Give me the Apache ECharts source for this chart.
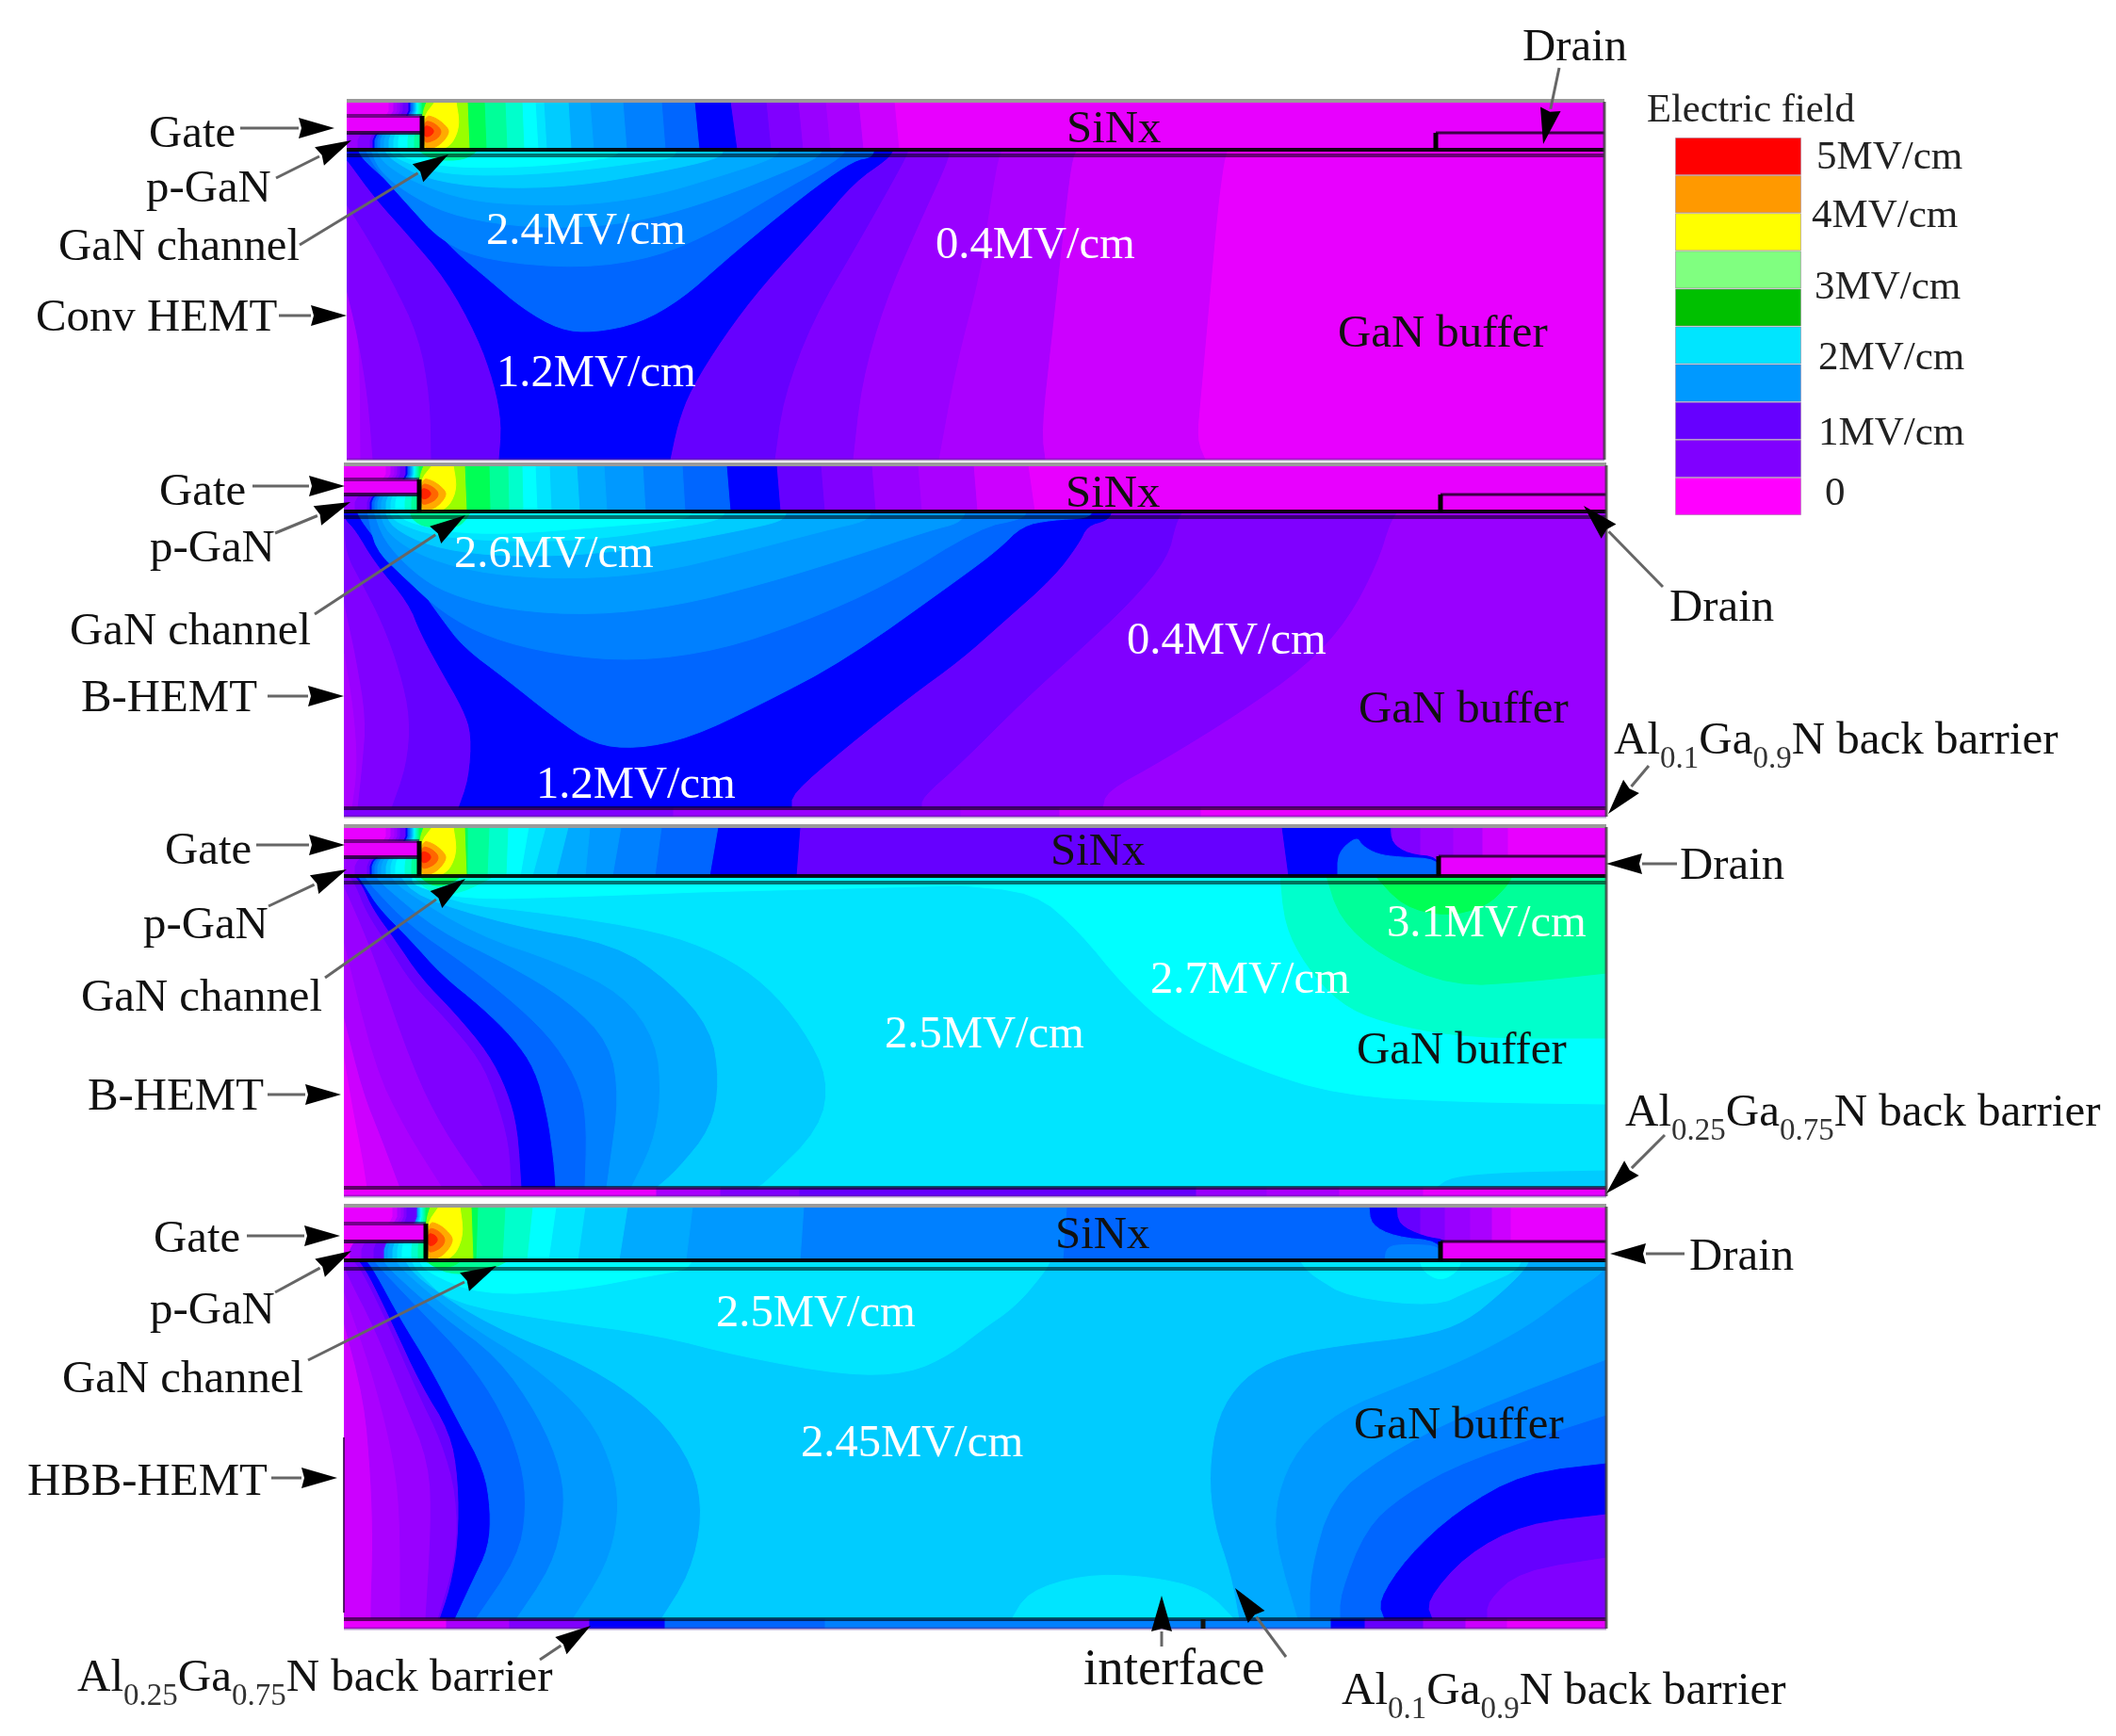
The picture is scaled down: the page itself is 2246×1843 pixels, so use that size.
<!DOCTYPE html>
<html>
<head>
<meta charset="utf-8">
<title>Electric field</title>
<script src="https://cdn.jsdelivr.net/npm/echarts@6/dist/echarts.min.js"></script>
<style>
    html, body { margin: 0; padding: 0; background: #fff; }
    #chart { width: 2246px; height: 1843px; }
</style>
</head>
<body>
<div id="chart"></div>
<script>
// Field bands, low to high. Contours below refer to an index in these two lists.
const bandValues = [0, 0.2, 0.3, 0.4, 0.6, 0.8, 1.2, 1.4, 1.6, 1.8, 2.0, 2.2, 2.45, 2.7, 2.9, 3.1, 3.3, 3.6, 4, 4.3, 4.6, 5];
const bandColors = ['#e800ff', '#cc00ff', '#aa00ff', '#9900ff', '#8000ff', '#6600ff', '#0000ff', '#0066ff', '#0080ff', '#0099ff', '#00aaff',
    '#00ccff', '#00e5ff', '#00ffff', '#00ffcc', '#00ff99', '#00ff55', '#99ff00', '#ffff00', '#ffaa00', '#ff6600', '#ff2200'];

// Colour bar
const legendColors = ['#ff0000', '#ff9900', '#ffff00', '#80ff80', '#00c000', '#00e5ff', '#0099ff', '#6600ff', '#8000ff', '#ff00ff'];
const legendValues = [1, 1, 1, 1, 1, 1, 1, 1, 1, 1];

// Left edge of each band around the gate: [above gate, below gate]
const gateEdges = {1: [45, 0], 2: [50, 0], 3: [54, 0], 4: [57, 12], 5: [60, 25], 6: [66, 28], 7: [68, 30], 8: [70, 33], 9: [71, 36], 10: [72, 40],
    11: [73, 45], 12: [74, 50], 13: [75, 55], 14: [76, 65], 15: [78, 72], 16: [80, 78]};

// Hot spot at the gate corner
const hotBands = [
    [17, [[85, 0], [128, 0], [130, 51], [80, 51], [80, 14]]],
    [18, [[94, 0], [116, 0], [120, 25], [112, 45], [100, 51], [80, 51], [80, 18]]],
    [19, [[82, 14], [95, 17], [108, 28], [108, 35], [100, 45], [90, 50], [82, 50]]],
    [20, [[82, 20], [92, 22], [101, 30], [98, 38], [88, 43], [82, 43]]],
    [21, [[82, 25], [90, 27], [93, 32], [88, 37], [82, 37]]]
];

// SiNx layer, [band, right edge at top, right edge at bottom]
const convSinx = [[1, 581, 586], [2, 543, 548], [3, 508, 513], [4, 479, 484], [5, 445, 450], [6, 407, 414], [7, 369, 374], [8, 334, 338], [9, 293, 297],
    [10, 258, 262], [11, 235, 238], [12, 209, 212], [13, 200, 203], [14, 186, 188], [15, 168, 170], [16, 146, 148]];
const bhemt1Sinx = [[1, 726, 733], [2, 668, 672], [3, 609, 613], [4, 560, 564], [5, 506, 510], [6, 459, 463], [7, 406, 410], [8, 359, 362], [9, 317, 320],
    [10, 276, 279], [11, 247, 250], [12, 218, 220], [13, 203, 205], [14, 189, 190], [15, 174, 175], [16, 154, 155]];
const bhemt2Sinx = [[1, 1235, 1235], [2, 1208, 1208], [3, 1177, 1177], [4, 1142, 1142], [5, 1112, 1112], [6, 484, 480], [7, 397, 388], [8, 337, 330], [9, 294, 285],
    [10, 261, 256], [11, 238, 225], [12, 214, 200], [13, 196, 187], [14, 174, 172], [15, 154, 152], [16, 131, 131]];
const hbbSinx = [[1, 1238, 1238], [2, 1218, 1218], [3, 1195, 1195], [4, 1168, 1168], [5, 1142, 1142], [9, 488, 484], [10, 370, 363], [11, 301, 292], [12, 256, 248],
    [13, 225, 217], [14, 200, 194], [15, 171, 168], [16, 142, 140]];

// SiNx patches that do not follow the left to right order
const bhemt2SinxPatches = [
    [6, [[996, 0], [1110, 0], [1112, 17], [1130, 29], [1162, 32], [1162, 52], [1003, 52]]],
    [7, [[1055, 52], [1055, 27], [1075, 10], [1081, 20], [1097, 29], [1119, 32], [1162, 34], [1162, 52]]]
];
const hbbSinxBelow = [
    [6, [[480, 0], [1117, 0], [1119, 19], [1146, 32], [1173, 36], [1173, 57], [480, 57]]],
    [7, [[480, 0], [1088, 0], [1090, 19], [1115, 32], [1164, 37], [1164, 57], [480, 57]]],
    [8, [[480, 0], [767, 0], [763, 57], [480, 57]]],
    [8, [[1105, 57], [1107, 42], [1130, 40], [1164, 42], [1164, 57]]]
];

// GaN buffer contours
const convBuffer = [
    [1, [[0, 51], [935, 51], [931, 62], [924, 115], [915, 215], [906, 315], [902, 359], [911, 380], [0, 380]]],
    [2, [[0, 51], [775, 51], [769, 62], [759, 149], [748, 249], [737, 349], [741, 380], [0, 380]]],
    [3, [[0, 51], [695, 51], [690, 65], [679, 132], [672, 182], [646, 282], [628, 380], [15, 380], [14, 250], [0, 150]]],
    [4, [[0, 51], [640, 51], [637, 65], [606, 132], [570, 215], [546, 299], [537, 380], [28, 380], [23, 315], [12, 249], [0, 199]]],
    [5, [[0, 51], [596, 51], [592, 62], [543, 149], [494, 232], [463, 315], [454, 380], [90, 380], [89, 315], [77, 249], [48, 189], [21, 142], [0, 109]]],
    [6, [[0, 51], [580, 51], [575, 60], [539, 85], [499, 132], [441, 195], [400, 249], [365, 305], [351, 342], [343, 380], [162, 380], [165, 342], [157, 299], [139, 249], [106, 189], [66, 142], [30, 102], [3, 65], [0, 62]]],
    [7, [[12, 51], [560, 51], [557, 59], [539, 62], [499, 89], [445, 132], [401, 169], [356, 209], [311, 235], [262, 245], [226, 242], [186, 219], [151, 189], [115, 159], [79, 119], [52, 92], [26, 69], [17, 60]]],
    [8, [[20, 51], [530, 51], [521, 62], [454, 99], [396, 135], [329, 165], [249, 177], [151, 169], [101, 149], [61, 105], [30, 70]]],
    [9, [[26, 51], [505, 51], [499, 60], [463, 75], [396, 102], [320, 125], [249, 134], [173, 132], [106, 119], [61, 95], [34, 72]]],
    [10, [[32, 51], [460, 51], [454, 60], [396, 79], [329, 99], [262, 109], [195, 110], [128, 105], [70, 85], [39, 65]]],
    [11, [[40, 51], [400, 51], [396, 60], [329, 75], [240, 90], [151, 92], [84, 82], [48, 62]]],
    [12, [[45, 51], [350, 51], [347, 59], [329, 62], [240, 74], [151, 79], [92, 75], [52, 60]]],
    [13, [[55, 51], [290, 51], [284, 59], [222, 67], [159, 70], [106, 69], [61, 60]]],
    [15, [[75, 51], [140, 51], [125, 62], [92, 62]]]
];

const bhemt1Buffer = [
    [2, [[0, 200], [10, 260], [14, 320], [8, 364], [0, 364]]],
    [4, [[0, 49], [1118, 49], [1110, 61], [1097, 103], [1066, 163], [1021, 213], [950, 263], [869, 313], [809, 346], [805, 364], [15, 364], [20, 319], [24, 269], [13, 203], [2, 153], [0, 140]]],
    [5, [[0, 49], [890, 49], [883, 61], [874, 99], [834, 146], [784, 193], [722, 249], [655, 316], [613, 353], [613, 364], [51, 364], [67, 319], [71, 269], [60, 219], [42, 169], [20, 126], [2, 93]]],
    [6, [[0, 49], [815, 49], [811, 58], [789, 64], [780, 83], [753, 119], [700, 166], [655, 206], [600, 246], [533, 299], [475, 349], [475, 364], [122, 364], [133, 333], [136, 286], [127, 259], [104, 219], [82, 179], [69, 146], [33, 103], [13, 69], [2, 58]]],
    [7, [[14, 49], [795, 49], [789, 56], [751, 58], [720, 64], [695, 89], [655, 119], [533, 206], [444, 253], [368, 289], [310, 301], [265, 296], [225, 269], [171, 226], [127, 193], [104, 163], [78, 126], [42, 89], [20, 61]]],
    [8, [[25, 49], [725, 49], [720, 57], [675, 66], [578, 126], [488, 166], [399, 196], [310, 208], [225, 201], [154, 183], [104, 156], [64, 119], [33, 89]]],
    [9, [[32, 49], [660, 49], [654, 61], [622, 69], [533, 99], [444, 126], [354, 149], [265, 159], [176, 154], [109, 136], [73, 113], [42, 79]]],
    [10, [[38, 49], [560, 49], [555, 59], [511, 69], [421, 93], [332, 114], [243, 121], [154, 116], [87, 99], [46, 73]]],
    [11, [[44, 49], [470, 49], [466, 59], [421, 69], [332, 86], [243, 96], [154, 96], [91, 86], [51, 66]]],
    [12, [[48, 49], [405, 49], [399, 58], [354, 66], [265, 79], [176, 81], [100, 76], [55, 61]]],
    [13, [[56, 49], [370, 49], [363, 58], [265, 66], [176, 73], [109, 71], [64, 59]]],
    [15, [[70, 49], [135, 49], [127, 61], [118, 66], [87, 66], [73, 58]]]
];

const bhemt2Buffer = [
    [1, [[0, 240], [10, 300], [20, 350], [25, 383], [1340, 383], [1340, 52], [0, 52]]],
    [2, [[0, 200], [20, 280], [40, 330], [60, 383], [1340, 383], [1340, 52], [0, 52]]],
    [3, [[0, 120], [33, 254], [65, 320], [105, 383], [1340, 383], [1340, 52], [0, 52]]],
    [4, [[0, 52], [0, 62], [30, 130], [73, 254], [105, 320], [149, 383], [1340, 383], [1340, 52]]],
    [5, [[6, 52], [13, 62], [24, 90], [46, 124], [73, 167], [109, 204], [145, 247], [162, 287], [176, 337], [178, 383], [1340, 383], [1340, 52]]],
    [6, [[12, 52], [20, 62], [31, 87], [55, 120], [82, 160], [118, 197], [154, 240], [174, 280], [185, 320], [189, 383], [1340, 383], [1340, 52]]],
    [7, [[15, 52], [22, 62], [38, 87], [71, 120], [104, 157], [145, 190], [180, 224], [203, 257], [216, 304], [223, 354], [225, 383], [1340, 383], [1340, 52]]],
    [8, [[22, 52], [29, 62], [69, 104], [131, 147], [185, 190], [225, 230], [252, 277], [258, 320], [256, 383], [1340, 383], [1340, 52]]],
    [9, [[34, 52], [42, 62], [100, 110], [171, 144], [238, 184], [283, 230], [292, 287], [283, 354], [279, 383], [1340, 383], [1340, 52]]],
    [10, [[50, 52], [60, 65], [140, 114], [229, 144], [296, 177], [332, 227], [337, 287], [328, 337], [305, 383], [1340, 383], [1340, 52]]],
    [11, [[60, 52], [78, 74], [176, 104], [288, 124], [346, 164], [390, 214], [399, 270], [390, 320], [354, 364], [332, 383], [1340, 383], [1340, 52]]],
    [12, [[80, 52], [109, 80], [221, 92], [332, 110], [399, 134], [448, 167], [488, 214], [515, 267], [506, 320], [448, 377], [439, 383], [1340, 383], [1340, 52]]],
    [11, [[1160, 383], [1175, 372], [1235, 367], [1340, 365], [1340, 383]]],
    [13, [[73, 52], [73, 62], [127, 77], [243, 74], [377, 69], [655, 62], [733, 69], [780, 110], [829, 170], [878, 214], [959, 254], [1057, 285], [1191, 292], [1340, 294], [1340, 52]]],
    [14, [[994, 52], [999, 104], [1021, 147], [1057, 187], [1101, 207], [1191, 224], [1340, 224], [1340, 52]]],
    [15, [[1043, 52], [1057, 97], [1101, 137], [1177, 169], [1258, 164], [1340, 155], [1340, 52]]],
    [16, [[1095, 52], [1124, 84], [1170, 95], [1213, 84], [1235, 62], [1240, 52]]],
    [14, [[73, 52], [160, 52], [125, 70], [95, 72]]],
    [16, [[80, 52], [125, 52], [110, 62], [92, 62]]]
];

const hbbBuffer = [
    [2, [[0, 122], [22, 206], [29, 289], [31, 356], [29, 422], [29, 438], [1340, 438], [1340, 57], [0, 57]]],
    [3, [[0, 89], [29, 172], [51, 256], [60, 322], [60, 438], [1340, 438], [1340, 57], [0, 57]]],
    [4, [[2, 69], [33, 129], [64, 206], [91, 272], [93, 339], [87, 438], [1340, 438], [1340, 57], [0, 57]]],
    [5, [[20, 69], [46, 122], [78, 196], [104, 249], [120, 306], [120, 372], [100, 438], [1213, 438], [1213, 419], [1249, 386], [1340, 372], [1340, 57], [10, 57]]],
    [6, [[26, 71], [51, 122], [82, 189], [113, 239], [122, 289], [122, 356], [113, 406], [102, 438], [1155, 438], [1148, 419], [1191, 369], [1253, 336], [1340, 326], [1340, 57], [16, 57]]],
    [7, [[33, 69], [60, 119], [91, 169], [122, 229], [149, 279], [156, 322], [154, 362], [136, 399], [118, 438], [1104, 438], [1097, 419], [1128, 372], [1182, 322], [1253, 282], [1340, 272], [1340, 57], [24, 57]]],
    [8, [[42, 69], [87, 116], [131, 162], [167, 216], [189, 272], [194, 322], [185, 372], [140, 438], [1057, 438], [1057, 412], [1084, 342], [1124, 306], [1191, 269], [1340, 221], [1340, 57], [32, 57]]],
    [9, [[51, 69], [104, 116], [163, 159], [207, 222], [232, 282], [234, 329], [221, 382], [183, 438], [1025, 438], [1025, 389], [1048, 309], [1101, 266], [1191, 219], [1340, 162], [1340, 57], [42, 57]]],
    [10, [[64, 69], [127, 122], [198, 166], [261, 222], [288, 282], [292, 329], [279, 382], [243, 438], [1012, 438], [988, 356], [990, 306], [1012, 256], [1057, 216], [1124, 189], [1191, 162], [1258, 126], [1302, 92], [1338, 69], [1340, 57], [55, 57]]],
    [11, [[78, 76], [154, 126], [261, 169], [332, 219], [372, 276], [381, 329], [368, 389], [337, 438], [950, 438], [941, 389], [923, 336], [918, 282], [927, 222], [954, 182], [994, 159], [1057, 147], [1146, 137], [1191, 122], [1231, 89], [1253, 67], [1258, 57], [65, 57]]],
    [12, [[78, 69], [113, 102], [221, 121], [332, 136], [421, 159], [533, 179], [600, 177], [645, 156], [675, 132], [713, 106], [744, 69], [750, 57], [72, 57]]],
    [12, [[1021, 66], [1030, 74], [1066, 96], [1159, 106], [1195, 89], [1244, 69], [1250, 57], [1015, 57]]],
    [12, [[709, 438], [726, 409], [784, 391], [851, 392], [914, 406], [945, 438]]],
    [13, [[87, 69], [145, 94], [243, 89], [332, 72], [363, 67], [370, 57], [80, 57]]],
    [13, [[1146, 69], [1164, 79], [1182, 69], [1186, 57], [1142, 57]]],
    [15, [[85, 57], [175, 57], [150, 70], [110, 72]]],
    [16, [[88, 57], [125, 57], [115, 64], [95, 64]]]
];

// Back barrier strips, [from, to, band]
const bhemt1Barrier = [[0, 350, 4], [350, 655, 3], [655, 760, 2], [760, 910, 1], [910, 1340, 0]];
const bhemt2Barrier = [[0, 332, 0], [332, 400, 2], [400, 484, 4], [484, 905, 5], [905, 980, 3], [980, 1057, 2], [1057, 1146, 1], [1146, 1340, 0]];
const hbbBarrier = [[0, 109, 0], [109, 176, 2], [176, 261, 4], [261, 341, 6], [341, 511, 7], [511, 1048, 8], [1048, 1084, 6], [1084, 1146, 5], [1146, 1191, 3], [1191, 1235, 1], [1235, 1340, 0]];

// Labels: text, left, middle
const darkLabels = [
    ['Gate', 158, 140], ['p-GaN', 155, 198], ['GaN channel', 62, 260], ['Conv HEMT', 38, 335], ['SiNx', 1132, 135], ['GaN buffer', 1420, 352], ['Drain', 1616, 48],
    ['Gate', 169, 520], ['p-GaN', 159, 580], ['GaN channel', 74, 668], ['B-HEMT', 86, 739], ['SiNx', 1131, 522], ['GaN buffer', 1442, 751], ['Drain', 1772, 643],
    ['Gate', 175, 901], ['p-GaN', 152, 980], ['GaN channel', 86, 1057], ['B-HEMT', 93, 1162], ['SiNx', 1115, 902], ['GaN buffer', 1440, 1113], ['Drain', 1783, 917],
    ['Gate', 163, 1313], ['p-GaN', 159, 1389], ['GaN channel', 66, 1462], ['HBB-HEMT', 29, 1571], ['SiNx', 1120, 1309], ['GaN buffer', 1437, 1511], ['Drain', 1793, 1332]
];
const fieldLabels = [
    ['2.4MV/cm', 516, 243], ['1.2MV/cm', 527, 394], ['0.4MV/cm', 993, 258],
    ['2.6MV/cm', 482, 586], ['1.2MV/cm', 569, 831], ['0.4MV/cm', 1196, 678],
    ['2.5MV/cm', 939, 1096], ['2.7MV/cm', 1221, 1038], ['3.1MV/cm', 1472, 978],
    ['2.5MV/cm', 760, 1392], ['2.45MV/cm', 850, 1530]
];
const barrierLabels = [
    ['0.1', '0.9', 1713, 784], ['0.25', '0.75', 1725, 1179], ['0.25', '0.75', 82, 1779], ['0.1', '0.9', 1424, 1793]
];
const legendTitle = 'Electric field';
const legendLabels = [['5MV/cm', 1928, 165], ['4MV/cm', 1923, 227], ['3MV/cm', 1926, 303], ['2MV/cm', 1930, 378], ['1MV/cm', 1930, 458], ['0', 1937, 522]];

// Arrows: from, tip
const arrows = [
    [255, 136, 355, 136], [293, 189, 373, 149], [318, 260, 476, 164], [296, 335, 368, 335], [1655, 72, 1638, 153],
    [268, 516, 366, 516], [292, 566, 372, 533], [334, 652, 494, 547], [284, 739, 365, 739], [1765, 623, 1681, 537], [1750, 813, 1707, 864],
    [272, 897, 366, 897], [285, 962, 368, 923], [345, 1038, 494, 933], [284, 1162, 362, 1162], [1780, 917, 1705, 917], [1767, 1205, 1705, 1267],
    [262, 1312, 361, 1312], [292, 1372, 373, 1328], [327, 1444, 527, 1344], [288, 1569, 358, 1569], [1788, 1331, 1709, 1331], [573, 1762, 627, 1726],
    [1233, 1748, 1233, 1694], [1365, 1759, 1311, 1686]
];

const serif = '"Liberation Serif", "Times New Roman", serif';

function rectBand(band, x0, y0, x1, y1) {
    return [band, [[x0, y0], [x1, y0], [x1, y1], [x0, y1]]];
}

// Build the SiNx polygons from the right edges plus the shared edge round the gate
function sinxBands(rows, h, dx) {
    const yk = h / 51;
    const bands = [rectBand(0, 0, 0, 1340, h)];
    rows.forEach(r => {
        const e = gateEdges[r[0]];
        bands.push([r[0], [[e[0] + dx, 0], [r[1], 0], [r[2], h], [e[1] + dx, h], [e[1] + dx, 33 * yk], [e[0] + dx, 17 * yk]]]);
    });
    return bands;
}

function hotShift(h, dx) {
    const yk = h / 51;
    return hotBands.map(b => [b[0], b[1].map(p => [p[0] + dx, p[1] * yk])]);
}

function barrierBands(rows, y0, y1) {
    return rows.map(r => rectBand(r[2], r[0], y0, r[1], y1));
}

const panels = [
    {left: 368, top: 108, width: 1335, height: 380, line1: 51, line2: 57, gateX: 80, gateY: [15, 33], drainX: 1156, drainY: 33, barrier: 0,
        bands: [rectBand(0, 0, 0, 1340, 380)].concat(convBuffer, sinxBands(convSinx, 51, 0), hotShift(51, 0))},
    {left: 365, top: 494, width: 1340, height: 373, line1: 49, line2: 55, gateX: 80, gateY: [15, 31], drainX: 1164, drainY: 31, barrier: 364,
        bands: [rectBand(3, 0, 0, 1340, 373)].concat(bhemt1Buffer, sinxBands(bhemt1Sinx, 49, 0), hotShift(49, 0), barrierBands(bhemt1Barrier, 364, 373))},
    {left: 365, top: 878, width: 1340, height: 392, line1: 52, line2: 59, gateX: 80, gateY: [15, 32], drainX: 1162, drainY: 31, barrier: 383,
        bands: [rectBand(0, 0, 0, 1340, 392)].concat(bhemt2Buffer, sinxBands(bhemt2Sinx, 52, 0), bhemt2SinxPatches, hotShift(52, 0), barrierBands(bhemt2Barrier, 383, 392))},
    {left: 365, top: 1281, width: 1340, height: 448, line1: 57, line2: 66, gateX: 87, gateY: [18, 37], drainX: 1164, drainY: 37, barrier: 438,
        bands: [rectBand(1, 0, 0, 1340, 448)].concat(hbbBuffer, sinxBands(hbbSinx.slice(0, 5), 57, 7), hbbSinxBelow, sinxBands(hbbSinx.slice(5), 57, 7).slice(1), hotShift(57, 7), barrierBands(hbbBarrier, 438, 448))}
];

// Round the drawn outline a little, corners on the frame and layer lines stay sharp
function roundOutline(points, p) {
    const flat = [0, p.line1, p.barrier, p.height];
    let ring = points.map((pt, i) => {
        const a = points[(i + points.length - 1) % points.length];
        const b = points[(i + 1) % points.length];
        const far = Math.hypot(pt[0] - a[0], pt[1] - a[1]) > 230 || Math.hypot(pt[0] - b[0], pt[1] - b[1]) > 230;
        return {x: pt[0], y: pt[1], sharp: far || pt[0] <= 0 || pt[0] >= p.width || flat.indexOf(pt[1]) >= 0};
    });
    for (let n = 0; n < 2; n++) {
        const next = [];
        ring.forEach((pt, i) => {
            if (pt.sharp) {
                next.push(pt);
                return;
            }
            const a = ring[(i + ring.length - 1) % ring.length];
            const b = ring[(i + 1) % ring.length];
            next.push({x: pt.x + (a.x - pt.x) * 0.25, y: pt.y + (a.y - pt.y) * 0.25, sharp: false});
            next.push({x: pt.x + (b.x - pt.x) * 0.25, y: pt.y + (b.y - pt.y) * 0.25, sharp: false});
        });
        ring = next;
    }
    return ring.map(pt => [pt.x, pt.y]);
}

function bandSeries(index, panel) {
    const bands = panel.bands;
    const outlines = bands.map(b => roundOutline(b[1], panel));
    return {
        type: 'custom',
        xAxisIndex: index,
        yAxisIndex: index,
        silent: true,
        clip: true,
        animation: false,
        data: bands.map(() => [0, 0]),
        renderItem: function(params, api) {
            const color = bandColors[bands[params.dataIndex][0]];
            return {
                type: 'polygon',
                shape: {points: outlines[params.dataIndex].map(pt => api.coord(pt))},
                style: {fill: color, stroke: color, lineWidth: 1}
            };
        }
    };
}

function lineEl(x1, y1, x2, y2, stroke, width) {
    return {type: 'line', shape: {x1: x1, y1: y1, x2: x2, y2: y2}, style: {stroke: stroke, lineWidth: width}, z: 50, silent: true};
}

function textEl(text, x, y, size, fill) {
    return {type: 'text', x: x, y: y + 3, z: 60, silent: true,
        style: {text: text, font: size + 'px ' + serif, fill: fill, verticalAlign: 'middle', align: 'left'}};
}

// Gate, drain, layer lines and frame of one panel
function panelElements(p) {
    const els = [];
    const x0 = p.left, y0 = p.top, x1 = p.left + p.width, y1 = p.top + p.height;
    els.push({type: 'rect', shape: {x: x0, y: y0 + p.gateY[0], width: p.gateX - 2, height: p.gateY[1] - p.gateY[0]},
        style: {fill: bandColors[0]}, z: 45, silent: true});
    els.push({type: 'rect', shape: {x: x0 + p.drainX, y: y0 + p.drainY, width: p.width - p.drainX, height: p.line1 - p.drainY},
        style: {fill: bandColors[0]}, z: 45, silent: true});
    els.push(lineEl(x0, y0 + p.gateY[0], x0 + p.gateX, y0 + p.gateY[0], 'rgba(40,0,60,0.6)', 4));
    els.push(lineEl(x0, y0 + p.gateY[1], x0 + p.gateX, y0 + p.gateY[1], 'rgba(20,0,40,0.8)', 4));
    els.push(lineEl(x0 + p.gateX, y0 + p.gateY[0], x0 + p.gateX, y0 + p.line1, '#000', 5));
    els.push(lineEl(x0 + p.drainX, y0 + p.drainY, x1, y0 + p.drainY, 'rgba(30,0,40,0.85)', 3));
    els.push(lineEl(x0 + p.drainX, y0 + p.drainY, x0 + p.drainX, y0 + p.line1, '#000', 5));
    els.push(lineEl(x0, y0 + p.line1, x1, y0 + p.line1, 'rgba(0,0,0,0.9)', 4));
    els.push(lineEl(x0, y0 + p.line2, x1, y0 + p.line2, 'rgba(0,0,0,0.55)', 4));
    if (p.barrier) {
        els.push(lineEl(x0, y0 + p.barrier, x1, y0 + p.barrier, 'rgba(0,0,0,0.6)', 4));
    }
    els.push(lineEl(x0, y0 - 1, x1, y0 - 1, '#9a9a9a', 4));
    els.push(lineEl(x1, y0, x1, y1, 'rgba(60,60,60,0.8)', 3));
    els.push(lineEl(x0, y1, x1, y1, 'rgba(90,40,140,0.45)', 3));
    return els;
}

// Thin stem and black head
function arrowElements(a) {
    const dx = a[2] - a[0], dy = a[3] - a[1];
    const len = Math.sqrt(dx * dx + dy * dy);
    const ux = dx / len, uy = dy / len;
    const headLen = 38, headHalf = 11;
    const bx = a[2] - ux * headLen, by = a[3] - uy * headLen;
    return [
        lineEl(a[0], a[1], bx, by, '#666', 3),
        {type: 'polygon', z: 55, silent: true, style: {fill: '#000'},
            shape: {points: [[a[2], a[3]], [bx - uy * headHalf, by + ux * headHalf], [a[2] - ux * (headLen - 3), a[3] - uy * (headLen - 3)], [bx + uy * headHalf, by - ux * headHalf]]}}
    ];
}

function barrierLabelEl(l) {
    return {type: 'text', x: l[2], y: l[3] + 3, z: 60, silent: true,
        style: {
            text: '{m|Al}{s|' + l[0] + '}{m|Ga}{s|' + l[1] + '}{m|N back barrier}',
            verticalAlign: 'middle',
            align: 'left',
            rich: {
                m: {font: '49px ' + serif, fill: '#111', lineHeight: 71},
                s: {font: '33px ' + serif, fill: '#333', lineHeight: 33, verticalAlign: 'bottom'}
            }
        }};
}

let elements = [];
panels.forEach(p => { elements = elements.concat(panelElements(p)); });
arrows.forEach(a => { elements = elements.concat(arrowElements(a)); });
darkLabels.forEach(l => elements.push(textEl(l[0], l[1], l[2], 48.8, '#111')));
elements.push(textEl('interface', 1150, 1771, 55, '#111'));
fieldLabels.forEach(l => elements.push(textEl(l[0], l[1], l[2], 48.6, '#fff')));
barrierLabels.forEach(l => elements.push(barrierLabelEl(l)));
elements.push(textEl(legendTitle, 1748, 115, 42.5, '#222'));
legendLabels.forEach(l => elements.push(textEl(l[0], l[1], l[2], 43, '#222')));
// small marks on the last panel
elements.push(lineEl(365, 1526, 365, 1712, 'rgba(50,0,70,0.8)', 2));
elements.push(lineEl(1277, 1719, 1277, 1729, '#111', 5));

const legendIndex = panels.length;
const chart = echarts.init(document.getElementById('chart'));
chart.setOption({
    animation: false,
    backgroundColor: '#fff',
    grid: panels.map(p => ({left: p.left, top: p.top, width: p.width, height: p.height}))
        .concat([{left: 1778, top: 146, width: 134, height: 401}]),
    xAxis: panels.map((p, i) => ({type: 'value', gridIndex: i, min: 0, max: p.width, show: false}))
        .concat([{type: 'value', gridIndex: legendIndex, min: 0, max: 1, show: false}]),
    yAxis: panels.map((p, i) => ({type: 'value', gridIndex: i, min: 0, max: p.height, inverse: true, show: false}))
        .concat([{type: 'category', gridIndex: legendIndex, inverse: true, data: legendColors.map((c, i) => i), show: false}]),
    series: panels.map((p, i) => bandSeries(i, p)).concat([{
        type: 'bar',
        xAxisIndex: legendIndex,
        yAxisIndex: legendIndex,
        barWidth: '100%',
        silent: true,
        data: legendValues.map((v, i) => ({value: v, itemStyle: {color: legendColors[i], borderColor: 'rgba(150,120,150,0.5)', borderWidth: 1}}))
    }]),
    graphic: {elements: elements}
});
</script>
</body>
</html>
